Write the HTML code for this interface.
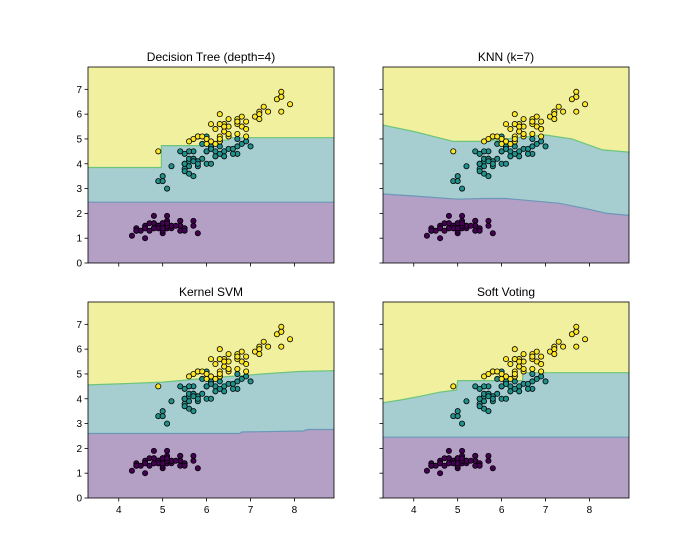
<!DOCTYPE html>
<html><head><meta charset="utf-8"><style>
body{margin:0;background:#fff}
svg{display:block;font-family:"Liberation Sans","DejaVu Sans",sans-serif}
</style></head><body>
<svg id="fig" width="700" height="560" viewBox="0 0 700 560"></svg>
<script>
const setosa=[[5.1,1.4],[4.9,1.4],[4.7,1.3],[4.6,1.5],[5.0,1.4],[5.4,1.7],[4.6,1.4],[5.0,1.5],[4.4,1.4],[4.9,1.5],[5.4,1.5],[4.8,1.6],[4.8,1.4],[4.3,1.1],[5.8,1.2],[5.7,1.5],[5.4,1.3],[5.1,1.4],[5.7,1.7],[5.1,1.5],[5.4,1.7],[5.1,1.5],[4.6,1.0],[5.1,1.7],[4.8,1.9],[5.0,1.6],[5.0,1.6],[5.2,1.5],[5.2,1.4],[4.7,1.6],[4.8,1.6],[5.4,1.5],[5.2,1.5],[5.5,1.4],[4.9,1.5],[5.0,1.2],[5.5,1.3],[4.9,1.4],[4.4,1.3],[5.1,1.5],[5.0,1.3],[4.5,1.3],[4.4,1.3],[5.0,1.6],[5.1,1.9],[4.8,1.4],[5.1,1.6],[4.6,1.4],[5.3,1.5],[5.0,1.4]];
const versicolor=[[7.0,4.7],[6.4,4.5],[6.9,4.9],[5.5,4.0],[6.5,4.6],[5.7,4.5],[6.3,4.7],[4.9,3.3],[6.6,4.6],[5.2,3.9],[5.0,3.5],[5.9,4.2],[6.0,4.0],[6.1,4.7],[5.6,3.6],[6.7,4.4],[5.6,4.5],[5.8,4.1],[6.2,4.5],[5.6,3.9],[5.9,4.8],[6.1,4.0],[6.3,4.9],[6.1,4.7],[6.4,4.3],[6.6,4.4],[6.8,4.8],[6.7,5.0],[6.0,4.5],[5.7,3.5],[5.5,3.8],[5.5,3.7],[5.8,3.9],[6.0,5.1],[5.4,4.5],[6.0,4.5],[6.7,4.7],[6.3,4.4],[5.6,4.1],[5.5,4.0],[5.5,4.4],[6.1,4.6],[5.8,4.0],[5.0,3.3],[5.6,4.2],[5.7,4.2],[5.7,4.2],[6.2,4.3],[5.1,3.0],[5.7,4.1]];
const virginica=[[6.3,6.0],[5.8,5.1],[7.1,5.9],[6.3,5.6],[6.5,5.8],[7.6,6.6],[4.9,4.5],[7.3,6.3],[6.7,5.8],[7.2,6.1],[6.5,5.1],[6.4,5.3],[6.8,5.5],[5.7,5.0],[5.8,5.1],[6.4,5.3],[6.5,5.5],[7.7,6.7],[7.7,6.9],[6.0,5.0],[6.9,5.7],[5.6,4.9],[7.7,6.7],[6.3,4.9],[6.7,5.7],[7.2,6.0],[6.2,4.8],[6.1,4.9],[6.4,5.6],[7.2,5.8],[7.4,6.1],[7.9,6.4],[6.4,5.6],[6.3,5.1],[6.1,5.6],[7.7,6.1],[6.3,5.6],[6.4,5.5],[6.0,4.8],[6.9,5.4],[6.7,5.6],[6.9,5.1],[5.8,5.1],[6.8,5.9],[6.7,5.7],[6.7,5.2],[6.3,5.0],[6.5,5.2],[6.2,5.4],[5.9,5.1]];
const titles=["Decision Tree (depth=4)","KNN (k=7)","Kernel SVM","Soft Voting"];
const xTicks=[4,5,6,7,8];
const yTicks=[0,1,2,3,4,5,6,7];
// boundaries [x, y] in data units
const treeLow=[[3.3,2.45],[8.9,2.45]];
const treeUp=[[3.3,3.85],[4.97,3.85],[4.97,4.73],[6.25,4.73],[6.3,4.95],[6.48,4.95],[6.48,5.05],[8.9,5.05]];
const knnLow=[[3.3,2.78],[4.0,2.7],[5.0,2.57],[5.6,2.6],[6.1,2.6],[7.3,2.41],[7.9,2.2],[8.4,2.0],[8.9,1.92]];
const knnUp=[[3.3,5.56],[4.0,5.3],[4.9,4.9],[5.6,4.9],[6.3,5.04],[7.0,5.16],[7.6,5.0],[8.3,4.56],[8.9,4.47]];
const svmLow=[[3.3,2.6],[6.75,2.6],[6.8,2.66],[8.2,2.7],[8.3,2.76],[8.9,2.76]];
const svmUp=[[3.3,4.56],[4.0,4.6],[5.0,4.67],[6.1,4.84],[7.3,5.0],[8.1,5.1],[8.9,5.13]];
const voteLow=[[3.3,2.45],[8.9,2.45]];
const voteUp=[[3.3,3.84],[3.7,3.95],[4.2,4.12],[4.6,4.27],[4.97,4.35],[5.0,4.73],[6.48,4.73],[6.48,5.05],[8.9,5.05]];
const lows=[treeLow,knnLow,svmLow,voteLow];
const ups=[treeUp,knnUp,svmUp,voteUp];

const NS="http://www.w3.org/2000/svg";
const svg=document.getElementById('fig');
function mk(t,a,p){const e=document.createElementNS(NS,t);for(const k in a)e.setAttribute(k,a[k]);(p||svg).appendChild(e);return e;}
const axesPos=[[88,67],[383,67],[88,302],[383,302]];
const W=246,H=196,X0=3.3,X1=8.9,Y0=0,Y1=7.9;
axesPos.forEach((pos,i)=>{
  const [ax,ay]=pos;
  const sx=v=>ax+(v-X0)/(X1-X0)*W;
  const sy=v=>ay+H-(v-Y0)/(Y1-Y0)*H;
  const g=mk('g',{});
  
  
  const cid='clip'+i;
  const cp=mk('clipPath',{id:cid},g);mk('rect',{x:ax,y:ay,width:W,height:H},cp);
  const rg=mk('g',{'clip-path':'url(#'+cid+')'},g);
  const yr=mk('rect',{x:ax,y:ay,width:W,height:H,fill:'#f0f09f'},rg);
  
  const poly=(pts)=>pts.map(p=>sx(p[0]).toFixed(1)+','+sy(p[1]).toFixed(1)).join(' ');
  const up=ups[i],lo=lows[i];
  const tp=mk('polygon',{points:poly(up)+' '+sx(X1)+','+sy(0)+' '+sx(X0)+','+sy(0),fill:'#a6cdd0'},rg);
  
  const pp=mk('polygon',{points:poly(lo)+' '+sx(X1)+','+sy(0)+' '+sx(X0)+','+sy(0),fill:'#b4a0c4'},rg);
  
  const ul=mk('polyline',{points:poly(up),fill:'none',stroke:'#6cc57a','stroke-width':1.2},rg);
  
  const ll=mk('polyline',{points:poly(lo),fill:'none',stroke:'#6b98b8','stroke-width':1.2},rg);
  
  [[setosa,'#440154'],[versicolor,'#21918c'],[virginica,'#fde725']].forEach(([d,c])=>{
    d.forEach(p=>{const m=mk('circle',{cx:sx(p[0]),cy:sy(p[1]),r:2.6,fill:c,stroke:'#000','stroke-width':0.8},rg);
      });
  });
  const fr=mk('rect',{x:ax,y:ay,width:W,height:H,fill:'none',stroke:'#000','stroke-width':0.8},g);
  
  xTicks.forEach(t=>{const x=sx(t);mk('line',{x1:x,x2:x,y1:ay+H,y2:ay+H+3.5,stroke:'#000','stroke-width':0.8},g);
    if(i>=2){const tx=mk('text',{x:x,y:ay+H+15,'font-size':10,'text-anchor':'middle'},g);tx.textContent=t;
      }});
  yTicks.forEach(t=>{const y=sy(t);mk('line',{x1:ax,x2:ax-3.5,y1:y,y2:y,stroke:'#000','stroke-width':0.8},g);
    if(i%2==0){const tx=mk('text',{x:ax-6,y:y+3.5,'font-size':10,'text-anchor':'end'},g);tx.textContent=t;
      }});
  const tt=mk('text',{x:ax+W/2,y:ay-6,'font-size':12,'text-anchor':'middle'},g);tt.textContent=titles[i];
  
});
</script>
</body></html>
